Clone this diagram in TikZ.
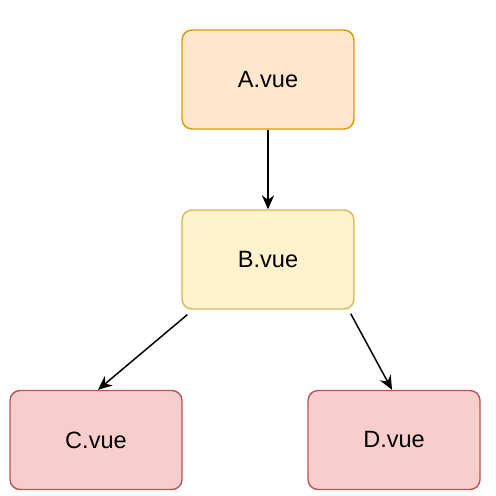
\documentclass[tikz,border=0pt]{standalone}
\usepackage{fontspec}
\setmainfont{Liberation Sans}
\usetikzlibrary{arrows.meta}
\definecolor{orangefill}{HTML}{FFE6CC}
\definecolor{orangeline}{HTML}{D79B00}
\definecolor{yellowfill}{HTML}{FFF2CC}
\definecolor{yellowline}{HTML}{D6B656}
\definecolor{redfill}{HTML}{F8CECC}
\definecolor{redline}{HTML}{B85450}
\tikzset{
  vuebox/.style={draw, line width=0.8pt, rounded corners=0.2cm, minimum width=3.44cm,
    minimum height=1.98cm, font=\fontsize{13.4}{16}\selectfont},
  link/.style={-{Stealth[length=8pt,width=7pt]}, line width=0.85pt}
}
\begin{document}
\begin{tikzpicture}[x=0.02cm,y=-0.02cm]
        \useasboundingbox (0,0) rectangle (496,496);
        \node[vuebox, fill=orangefill, draw=orangeline] (A) at (268,79.5) {A.vue};
        \node[vuebox, fill=yellowfill, draw=yellowline] (B) at (268,259.5) {B.vue};
        \node[vuebox, fill=redfill, draw=redline] (C) at (96,440) {C.vue};
        \node[vuebox, fill=redfill, draw=redline] (D) at (394,440) {D.vue};
        \coordinate (bc) at ([shift={(6,5)}]B.south west);
        \coordinate (bd) at ([shift={(-4,4)}]B.south east);
        \draw[link] (A) -- (B);
        \draw[link] (bc) -- ([xshift=0.04cm]C.north);
        \draw[link] (bd) -- ([xshift=-0.04cm]D.north);
    \end{tikzpicture}
\end{document}
